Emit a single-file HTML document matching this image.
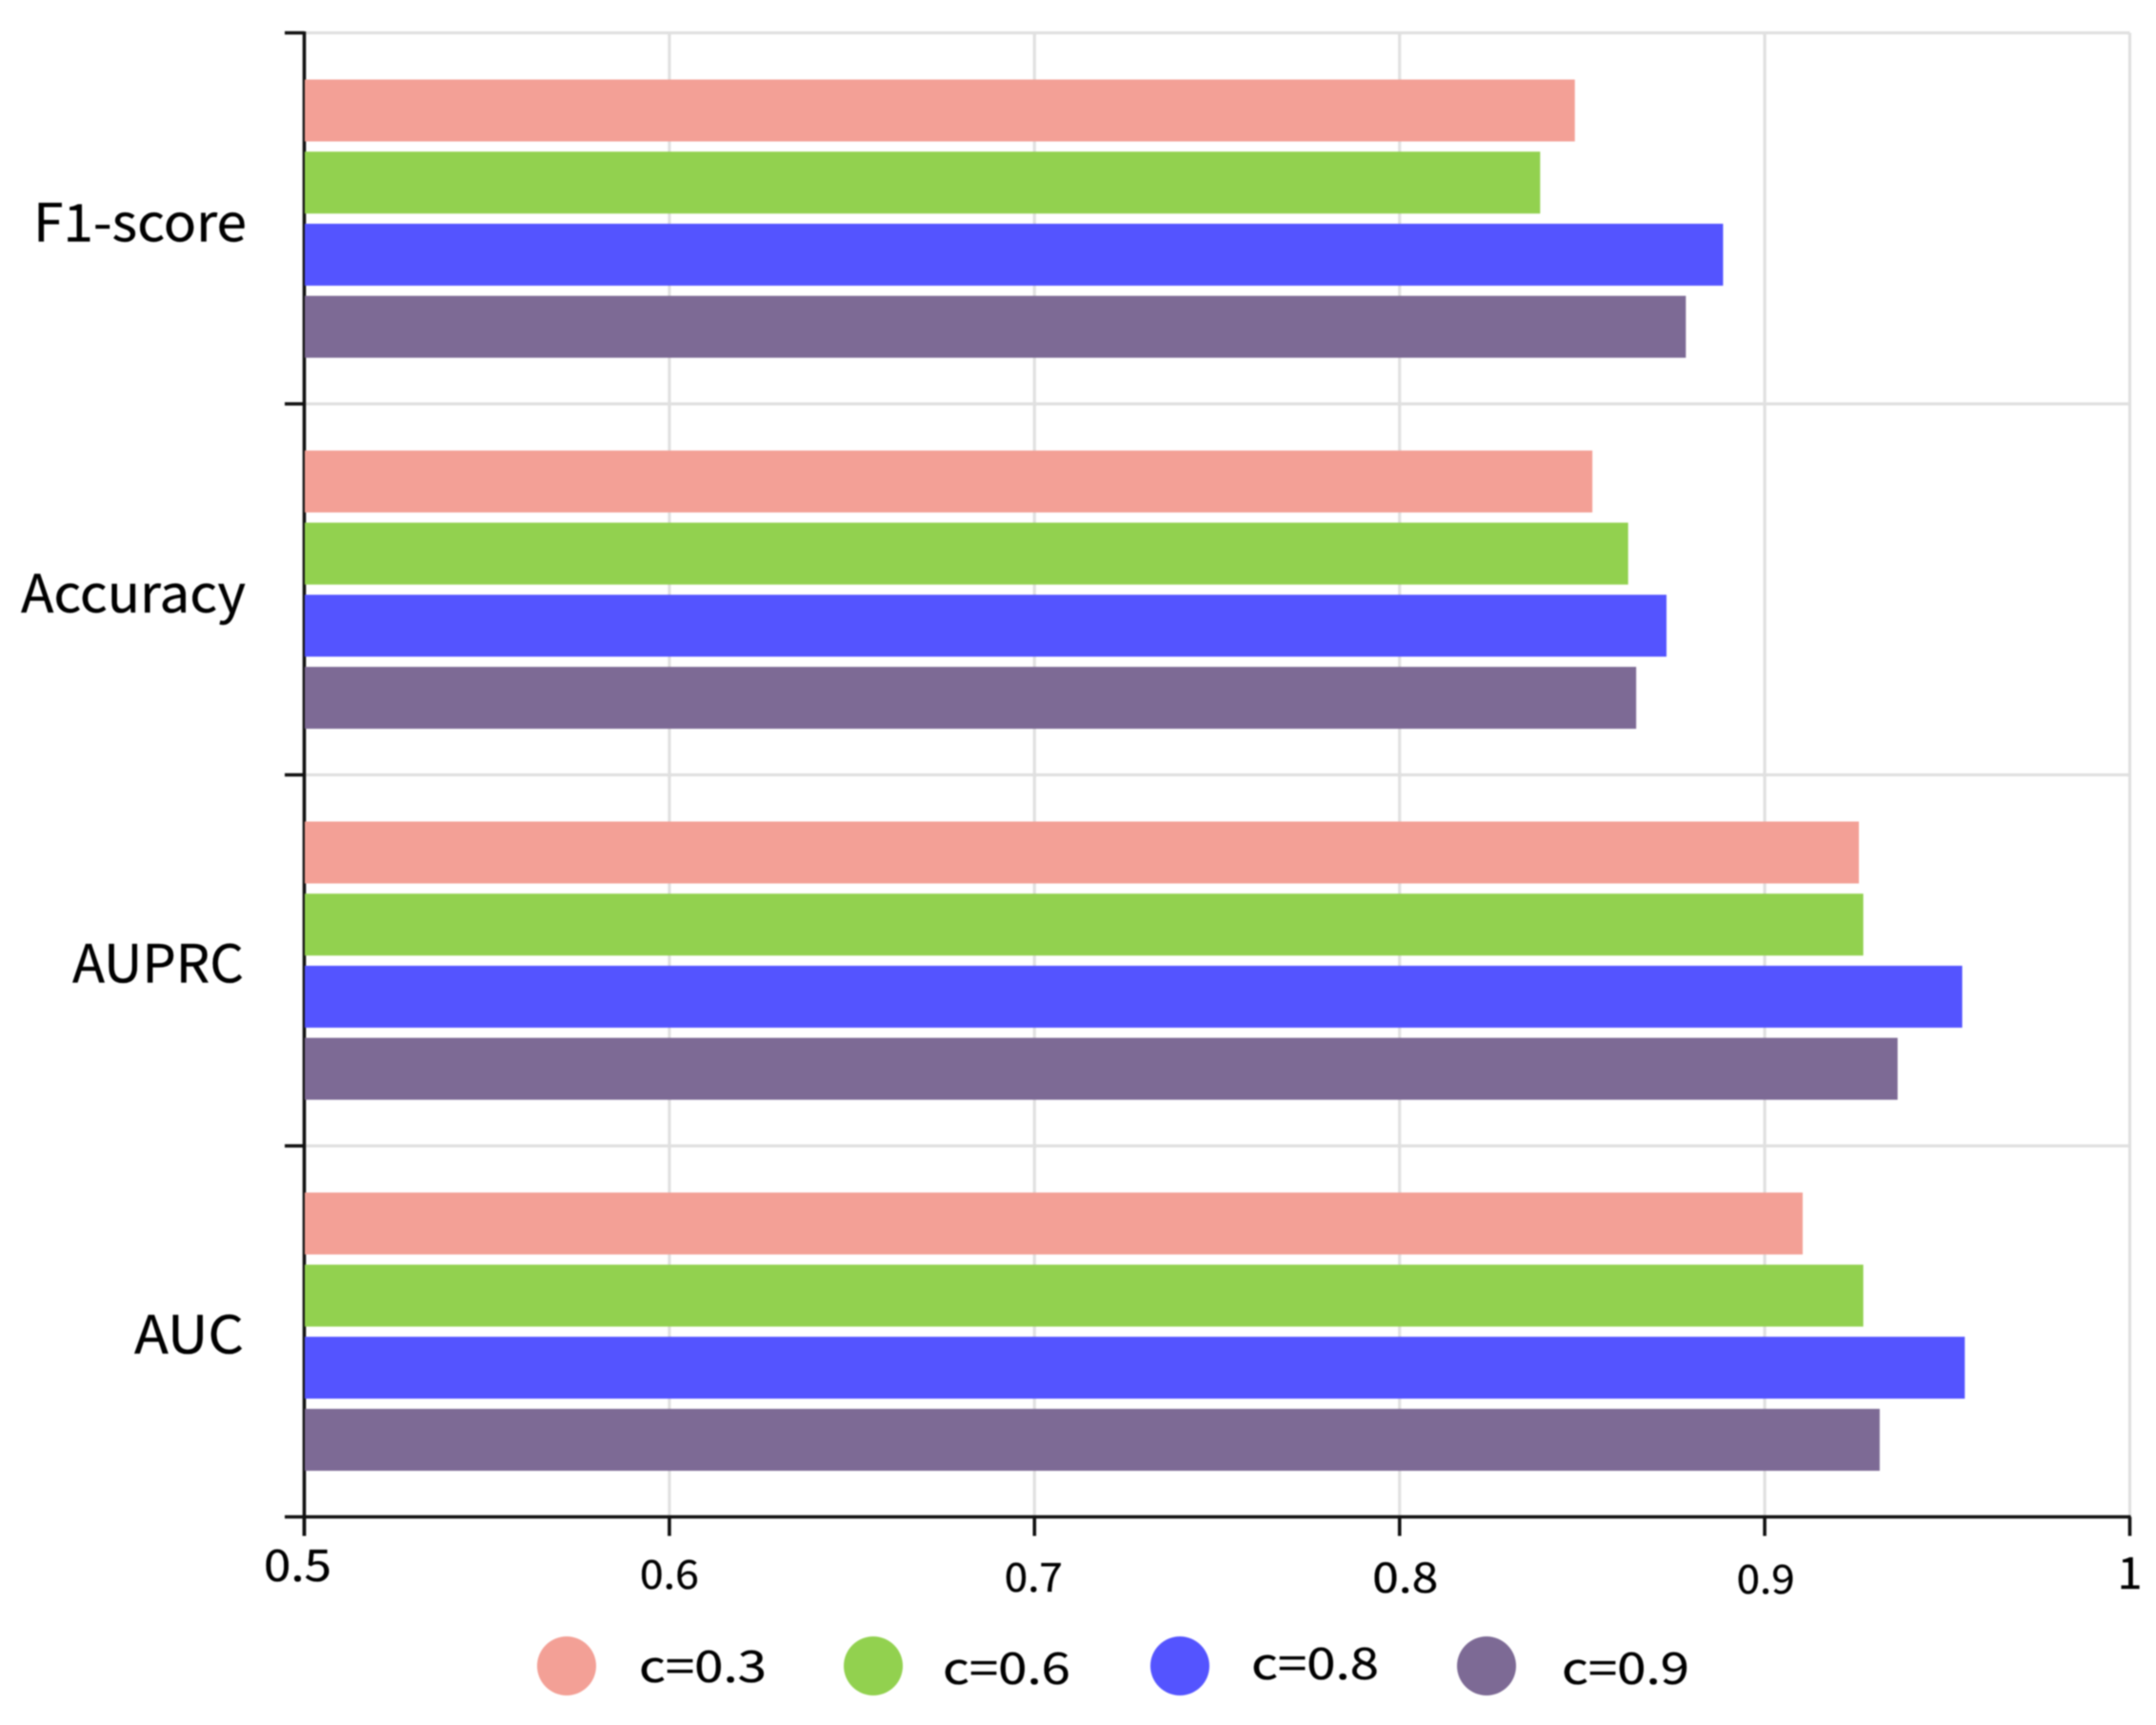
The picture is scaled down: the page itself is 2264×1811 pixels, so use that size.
<!DOCTYPE html>
<html>
<head>
<meta charset="utf-8">
<title>Metrics by c</title>
<style>
html,body{margin:0;padding:0;background:#fff;width:2264px;height:1811px;overflow:hidden}
svg{display:block;filter:blur(0.7px)}
text{font-family:"Noto Sans CJK SC","Liberation Sans",sans-serif;fill:#000;stroke:#000;stroke-width:0.35px}
</style>
</head>
<body>
<svg id="chart" xmlns="http://www.w3.org/2000/svg" width="2264" height="1811" viewBox="0 0 2264 1811"></svg>
<script>
const categories = ["F1-score", "Accuracy", "AUPRC", "AUC"];
const seriesNames = ["c=0.3", "c=0.6", "c=0.8", "c=0.9"];
const c03Values = [0.848, 0.8528, 0.9258, 0.9104];
const c06Values = [0.8385, 0.8626, 0.927, 0.927];
const c08Values = [0.8886, 0.8731, 0.9541, 0.9548];
const c09Values = [0.8784, 0.8648, 0.9364, 0.9315];
const xTicks = [0.5, 0.6, 0.7, 0.8, 0.9, 1];
const xTickLabels = ["0.5", "0.6", "0.7", "0.8", "0.9", "1"];

const seriesValues = [c03Values, c06Values, c08Values, c09Values];
const colors = ["#F3A096", "#92D14F", "#5454FF", "#7D6A95"];
const X0 = 319.5, X1 = 2236.5, Y0 = 34.5, Y1 = 1592.5;
const xMin = 0.5, xMax = 1;
const svg = document.getElementById("chart");
const NS = "http://www.w3.org/2000/svg";

function xScale(v) { return X0 + (v - xMin) / (xMax - xMin) * (X1 - X0); }
function bandTop(i) { return Y0 + i * (Y1 - Y0) / categories.length; }
function make(tag, attrs, parent) {
  const el = document.createElementNS(NS, tag);
  for (const k in attrs) el.setAttribute(k, attrs[k]);
  (parent || svg).appendChild(el);
  return el;
}

/* background grid */
const gridGroup = make("g", { stroke: "#E0E0E0", "stroke-width": 3.2 });


xTicks.forEach(function (t) {
  const line = make("line", { x1: xScale(t), x2: xScale(t), y1: Y0, y2: Y1 }, gridGroup);
  
  
});
for (let i = 0; i < categories.length; i++) {
  const line = make("line", { x1: X0, x2: X1, y1: bandTop(i), y2: bandTop(i) }, gridGroup);
  
  
}

/* axes */
const axisGroup = make("g", { stroke: "#111", "stroke-width": 3.6, fill: "none" });


const yAxis = make("line", { x1: X0, x2: X0, y1: Y0 - 1.5, y2: Y1 + 20 }, axisGroup);


const xAxis = make("line", { x1: 299, x2: X1 + 1, y1: Y1, y2: Y1 }, axisGroup);


for (let i = 0; i < categories.length; i++) {
  const tick = make("line", { x1: 299, x2: X0, y1: bandTop(i), y2: bandTop(i) }, axisGroup);
  
  
}
xTicks.forEach(function (t) {
  const tick = make("line", { x1: xScale(t), x2: xScale(t), y1: Y1, y2: Y1 + 20 }, axisGroup);
  
  
});

/* bars */
const barOffset = 49, barHeight = 65, barStep = 75.7;
seriesValues.forEach(function (vals, s) {
  const g = make("g", { fill: colors[s] });
  
  
  vals.forEach(function (v, i) {
    const bar = make("rect", {
      x: X0 + 0.5,
      y: bandTop(i) + barOffset + s * barStep,
      width: xScale(v) - X0 - 0.5,
      height: barHeight
    }, g);
    
    
  });
});

/* category labels: widths stretched to the figure's wider typeface */
const categoryBaselineShift = 24;
const categoryTextWidth = [224, 236, 180, 115];
const categoryTextEnd = [259, 258, 256, 256];
categories.forEach(function (c, i) {
  const t = make("text", {
    x: categoryTextEnd[i] - categoryTextWidth[i],
    y: bandTop(i) + (Y1 - Y0) / categories.length / 2 + categoryBaselineShift - (i > 1 ? 1 : 0),
    "font-size": 55,
    textLength: categoryTextWidth[i],
    lengthAdjust: "spacingAndGlyphs"
  });
  t.textContent = c;
  
  
});

/* x tick labels: small hand-placed offsets as seen in the figure */
const tickDx = [-7, 0, -1, 6, 1, 0];
const tickBase = [1660, 1668, 1671, 1672, 1673, 1668];
const tickFont = [46, 42, 42, 44, 42, 46];
const tickTextWidth = [71, 62, 61, 69, 61, 26];
xTicks.forEach(function (t, i) {
  const label = make("text", {
    x: xScale(t) + tickDx[i] - tickTextWidth[i] / 2,
    y: tickBase[i],
    "font-size": tickFont[i],
    textLength: tickTextWidth[i],
    lengthAdjust: "spacingAndGlyphs"
  });
  label.textContent = xTickLabels[i];
  
  
});

/* legend */
const legendCx = [595, 917, 1239, 1561];
const legendTextX = [671, 990, 1314, 1640];
const legendBase = [1766, 1768, 1763, 1768];
seriesNames.forEach(function (n, i) {
  const g = make("g", {});
  
  
  const dot = make("ellipse", { cx: legendCx[i], cy: 1749, rx: 31, ry: 31, fill: colors[i] }, g);
  
  
  const label = make("text", {
    x: legendTextX[i],
    y: legendBase[i],
    "font-size": 46,
    textLength: 134,
    lengthAdjust: "spacingAndGlyphs"
  }, g);
  label.textContent = n;
  
  
});
</script>
</body>
</html>
